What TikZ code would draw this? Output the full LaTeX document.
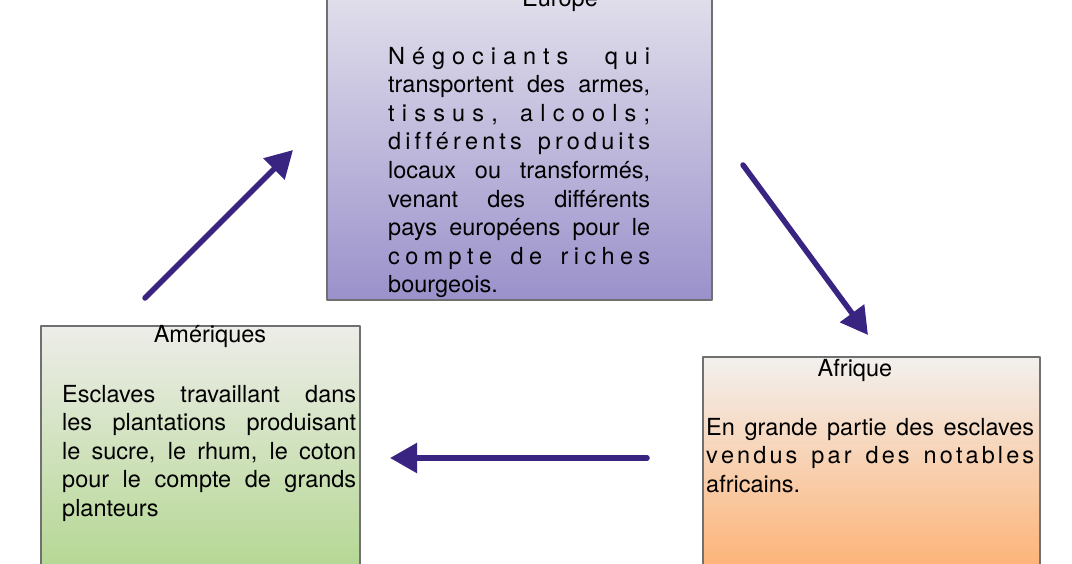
\documentclass[tikz,border=0pt]{standalone}
\usepackage{fontspec}
\setmainfont{TeX Gyre Heros}
\usetikzlibrary{arrows.meta}
\definecolor{violetf}{RGB}{58,36,130}
\definecolor{bord}{RGB}{112,112,112}
\definecolor{europeHaut}{RGB}{233,232,239}
\definecolor{europeBas}{RGB}{155,145,203}
\definecolor{ameriqueHaut}{RGB}{237,237,233}
\definecolor{ameriqueBas}{RGB}{172,212,134}
\definecolor{afriqueHaut}{RGB}{242,240,238}
\definecolor{afriqueBas}{RGB}{255,168,98}
% lignes justifiees : mots ou lettres espaces
\ExplSyntaxOn
\NewDocumentCommand\espacer{m}{\hbox_to_wd:nn{\linewidth}{\tl_map_inline:nn{#1}{##1\hfil}\unskip}}
\ExplSyntaxOff
\newcommand\ligne[1]{\hbox to \linewidth{\spaceskip=\fontdimen2\font plus 1fil\relax #1}}
\begin{document}
\begin{tikzpicture}[x=1pt,y=-1pt, line join=round, line cap=round,
    boite/.style={draw=bord, line width=1.5pt, inner sep=0pt, anchor=north west},
    titre/.style={anchor=base, inner sep=0pt, font=\fontsize{23.5}{28.6}\selectfont},
    texte/.style={anchor=base west, inner sep=0pt, font=\fontsize{23.5}{28.6}\selectfont},
    fleche/.style={violetf, line width=5.5pt, -{Triangle[length=27pt,width=29pt]}}]
    \useasboundingbox (0,0) rectangle (1072,563);
    % les trois continents
    \node[boite, minimum width=385pt, minimum height=340pt, top color=europeHaut, bottom color=europeBas] (europe) at (326,-41) {};
    \node[boite, minimum width=319pt, minimum height=280pt, top color=ameriqueHaut, bottom color=ameriqueBas] (amerique) at (40,325) {};
    \node[boite, minimum width=337pt, minimum height=250pt, top color=afriqueHaut, bottom color=afriqueBas] (afrique) at (702,356) {};
    \node[titre] (tEurope) at (560,6.8) {Europe};
    \node[titre] (tAmerique) at (210,342) {Amériques};
    \node[titre] (tAfrique) at (855,376) {Afrique};
    \node[texte, text width=262pt] (xEurope) at (388,64) {%
        \espacer{Négociants~~qui}
        \ligne{transportent des armes,}
        \espacer{tissus,~alcools;}
        \espacer{différents~produits}
        \ligne{locaux ou transformés,}
        \ligne{venant des différents}
        \ligne{pays européens pour le}
        \espacer{compte~de~riches}
        \hbox{bourgeois.}};
    \node[texte, text width=294pt] (xAmerique) at (62,402) {%
        \ligne{Esclaves travaillant dans}
        \ligne{les plantations produisant}
        \ligne{le sucre, le rhum, le coton}
        \ligne{pour le compte de grands}
        \hbox{planteurs}};
    \node[texte, text width=328pt] (xAfrique) at (706,435) {%
        \ligne{En grande partie des esclaves}
        \espacer{vendus~par~des~notables}
        \hbox{africains.}};
    % le commerce triangulaire
    \coordinate (depAm) at (145,298); \coordinate (arrEu) at (293,150);
    \coordinate (depEu) at (743,165); \coordinate (arrAf) at (868,335);
    \coordinate (depAf) at (647,458); \coordinate (arrAm) at (390,458);
    \draw[fleche] (depAm) -- (arrEu);
    \draw[fleche] (depEu) -- (arrAf);
    \draw[fleche] (depAf) -- (arrAm);
\end{tikzpicture}
\end{document}
